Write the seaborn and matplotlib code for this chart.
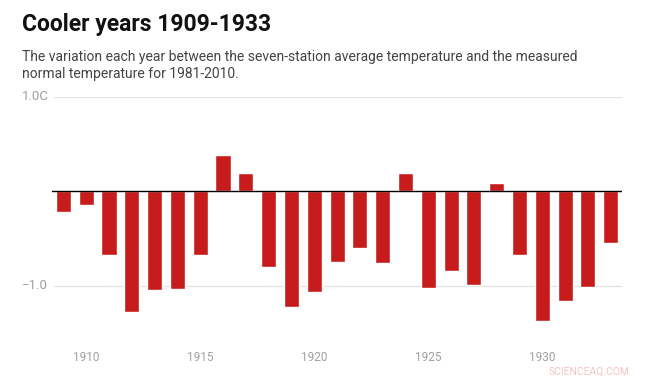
import matplotlib
matplotlib.use("Agg")
import matplotlib.pyplot as plt
import matplotlib.transforms as mtransforms
import seaborn as sns
import pandas as pd

# deviation from 1981-2010 normal, degrees C
years = list(range(1909, 1934))
deviation = [-0.22, -0.15, -0.67, -1.28, -1.05, -1.04, -0.67, 0.38, 0.19,
             -0.80, -1.23, -1.07, -0.75, -0.60, -0.76, 0.19, -1.02, -0.84,
             -0.99, 0.09, -0.67, -1.37, -1.16, -1.01, -0.55]
xtick_years = [1910, 1915, 1920, 1925, 1930]
ytick_values = [1.0, -1.0]
ytick_labels = ["1.0C", "\u22121.0"]

bar_color = "#c71c1c"
grid_color = "#e2e2e2"
label_color = "#a0a0a0"

sns.set_style("white")
plt.rcParams['font.family'] = ['Roboto', 'DejaVu Sans']

df = pd.DataFrame({"year": years, "deviation": deviation})

fig = plt.figure(figsize=(6.5, 3.8), dpi=100)
ax = fig.add_axes([0.08, 0.124, 0.877, 0.621])

sns.barplot(data=df, x="year", y="deviation", native_scale=True,
            color=bar_color, saturation=1, width=0.66, ax=ax, zorder=2)

ax.set_xlim(1908.5, 1933.5)
ax.set_ylim(-1.5, 1.0)

# gridlines start right after the labels
for v in ytick_values:
    ax.axhline(v, xmin=0.004, xmax=1, color=grid_color, lw=0.9, zorder=0)
ax.axhline(0, color="black", lw=1.0, zorder=3)

trans = mtransforms.blended_transform_factory(fig.transFigure, ax.transData)
for v, lab in zip(ytick_values, ytick_labels):
    ax.text(0.034, v, lab, transform=trans, ha="left", va="center",
            fontsize=9.5, color=label_color)

ax.set_yticks([])
ax.set_xticks(xtick_years)
ax.set_xticklabels([str(y) for y in xtick_years], fontsize=8.5, color=label_color)
ax.tick_params(axis="x", length=0, pad=13)
ax.set_xlabel("")
ax.set_ylabel("")
sns.despine(ax=ax, left=True, bottom=True)

fig.text(0.034, 0.936, "Cooler years 1909-1933", fontsize=16.5, fontweight="bold",
         color="#111111", va="center")
fig.text(0.034, 0.827, "The variation each year between the seven-station average temperature and the measured\n"
         "normal temperature for 1981-2010.", fontsize=10, color="#444444",
         va="center", linespacing=1.3)
fig.text(0.968, 0.022, "SCIENCEAQ.COM", fontsize=7.5, color="#f2c4c4", ha="right", va="center")

fig.savefig("out.png", dpi=100)
